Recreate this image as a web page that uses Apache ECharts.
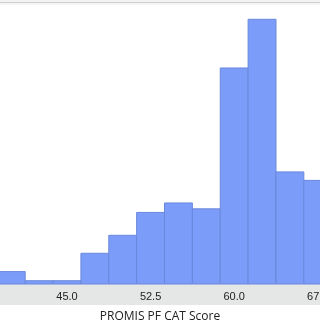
<!DOCTYPE html>
<html>
<head>
<meta charset="utf-8">
<script src="https://cdn.jsdelivr.net/npm/echarts@6/dist/echarts.min.js"></script>
<style>html,body{margin:0;padding:0;background:#fff}#c{width:320px;height:320px}</style>
</head>
<body>
<div id="c"></div>
<script>
var binCenters = [40.0, 42.5, 45.0, 47.5, 50.0, 52.5, 55.0, 57.5, 60.0, 62.5, 65.0, 67.5];
var counts = [3.8, 1, 1, 9.4, 14.9, 21.9, 24.8, 23, 66.1, 81, 34.3, 31.7];
var binWidth = 2.5;
var tickValues = [45.0, 52.5, 60.0, 67.5];
var xTitle = 'PROMIS PF CAT Score';

var chart = echarts.init(document.getElementById('c'));
var data = binCenters.map(function (c, i) { return [c - binWidth / 2, c + binWidth / 2, counts[i]]; });
chart.setOption({
  animation: false,
  grid: { left: 0, right: 0, top: 0, bottom: 36, containLabel: false, outerBoundsMode: 'none' },
  graphic: [
    { type: 'rect', z: 0, shape: { x: 0, y: 284, width: 320, height: 21 }, style: { fill: '#e5e7e7' } },
    { type: 'rect', z: 0, shape: { x: 0, y: 0, width: 320, height: 2 }, style: { fill: '#f2f2f2' } },
    { type: 'line', z: 0, shape: { x1: 0, y1: 2.5, x2: 320, y2: 2.5 }, style: { stroke: '#cfcfcf', lineWidth: 1 } },
    { type: 'rect', z: 0, shape: { x: 0, y: 3, width: 320, height: 2 }, style: { fill: '#f5f5f5' } }
  ],
  xAxis: {
    type: 'value', min: 38.99, max: 67.7,
    axisLine: { show: false }, axisTick: { show: false }, splitLine: { show: false },
    axisLabel: {
      customValues: tickValues,
      formatter: function (v) { return v.toFixed(1); },
      color: '#222', fontSize: 11, fontFamily: 'Liberation Sans', margin: 7,
      hideOverlap: false
    },
    name: xTitle, nameLocation: 'middle', nameGap: 27,
    nameTextStyle: { color: '#222', fontSize: 12, fontFamily: 'Open Sans' }
  },
  yAxis: { type: 'value', min: 0, max: 86.9, show: false },
  series: [{
    type: 'custom',
    renderItem: function (params, api) {
      var p0 = api.coord([api.value(0), api.value(2)]);
      var p1 = api.coord([api.value(1), 0]);
      return {
        type: 'rect',
        shape: { x: p0[0], y: p0[1], width: p1[0] - p0[0], height: p1[1] - p0[1] },
        style: { fill: '#7b9cf8', stroke: '#6a88dc', lineWidth: 1 }
      };
    },
    encode: { x: [0, 1], y: 2 },
    data: data
  }]
});
</script>
</body>
</html>
